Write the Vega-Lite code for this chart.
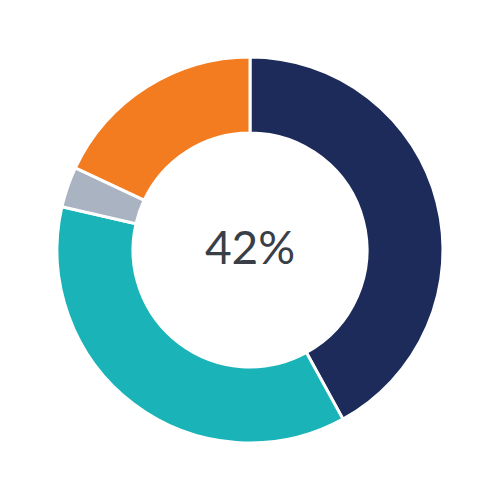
{
  "$schema": "https://vega.github.io/schema/vega-lite/v6.json",
  "width": 500,
  "height": 500,
  "padding": 0,
  "autosize": {"type": "fit", "contains": "padding"},
  "background": "white",
  "config": {"view": {"stroke": null}},
  "data": {"values": [
    {"segment": "A", "value": 42, "order": 1},
    {"segment": "B", "value": 36.6, "order": 2},
    {"segment": "C", "value": 3.4, "order": 3},
    {"segment": "D", "value": 18, "order": 4}
  ]},
  "layer": [
    {
      "mark": {"type": "arc", "outerRadius": 193, "innerRadius": 117, "stroke": "white", "strokeWidth": 3},
      "encoding": {
        "theta": {"field": "value", "type": "quantitative", "stack": true},
        "order": {"field": "order", "type": "quantitative"},
        "color": {"field": "segment", "type": "nominal", "legend": null,
          "scale": {"domain": ["A", "B", "C", "D"], "range": ["#1c2b5a", "#1ab4b8", "#a9b3c1", "#f47c20"]}}
      }
    },
    {
      "data": {"values": [{"label": "42%"}]},
      "mark": {"type": "text", "fontSize": 46, "font": "Lato", "color": "#3a3f47", "align": "center", "baseline": "middle", "dy": 0},
      "encoding": {"text": {"field": "label", "type": "nominal"}}
    }
  ]
}
